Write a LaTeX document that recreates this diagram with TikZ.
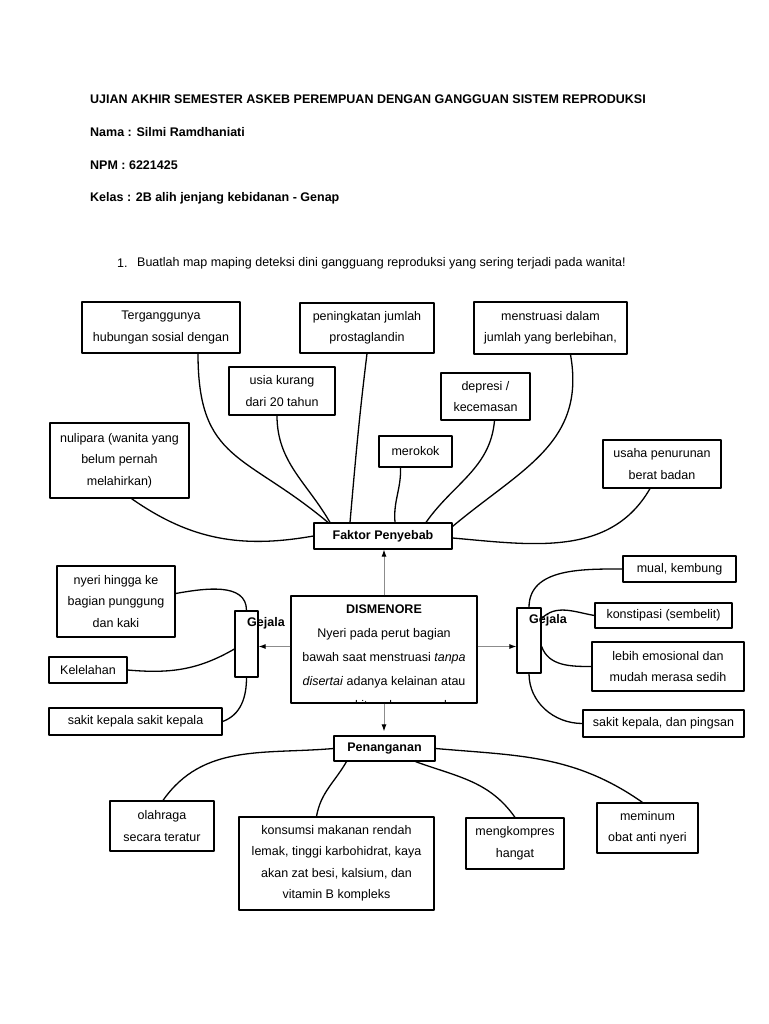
\documentclass[tikz,border=0pt]{standalone}
\usepackage{fontspec}
\setmainfont{Liberation Sans}
\usetikzlibrary{calc}
\usetikzlibrary{positioning}
\usetikzlibrary{arrows.meta}

\begin{document}
\begin{tikzpicture}
		[
		x=1pt, y=-1pt,
		font=\fontsize{12.5}{21.5}\selectfont,
		line join=round
		]
		
		% Node styles: boxes, side bars and header lines
		\tikzstyle{box node}=[draw,line width=1.2pt,align=center,inner sep=2pt];
		\tikzstyle{bar node}=[draw,line width=1.2pt,inner sep=0];
		\tikzstyle{head node}=[anchor=west,inner sep=0,font=\fontsize{12.5}{15}\selectfont\bfseries];
		\tikzstyle{plain node}=[anchor=west,inner sep=0];
		% Connectors
		\tikzstyle{link}=[line width=1.3pt];
		\tikzstyle{pointer}=[draw=black!45,line width=1pt,-{Latex[color=black,length=7pt,width=5pt]}];
		
		% Page
		\fill[white](0,0)rectangle(768,1024);
		\useasboundingbox(0,0)rectangle(768,1024);
		
		% Header
		\node[head node](title)at(90,99){UJIAN AKHIR SEMESTER ASKEB PEREMPUAN DENGAN GANGGUAN SISTEM REPRODUKSI};
		\node[head node](nama)at(90,132){Nama : Silmi Ramdhaniati};
		\node[head node](npm)at(90,165){NPM : 6221425};
		\node[head node](kelas)at(90,198){Kelas : 2B alih jenjang kebidanan - Genap};
		\node[plain node](num)at(117,263){1.};
		\node[plain node](task)at(137,263){Buatlah map maping deteksi dini gangguang reproduksi yang sering terjadi pada wanita!};
		
		% Faktor penyebab
		\node[box node, minimum width=158, minimum height=51](sosial)at(161,327.5){Terganggunya\\hubungan sosial dengan};
		\node[box node, minimum width=134, minimum height=50](prosta)at(367,328){peningkatan jumlah\\prostaglandin};
		\node[box node, minimum width=153, minimum height=52](mens)at(550.5,328){menstruasi dalam\\jumlah yang berlebihan,};
		\node[box node, minimum width=106, minimum height=48](usia)at(282,391){usia kurang\\dari 20 tahun};
		\node[box node, minimum width=89, minimum height=47](depresi)at(485.5,396.5){depresi /\\kecemasan};
		\node[box node, minimum width=139, minimum height=75](nuli)at(119.5,460.5){nulipara (wanita yang\\belum pernah\\melahirkan)};
		\node[box node, minimum width=73, minimum height=31](rokok)at(415.5,451.5){merokok};
		\node[box node, minimum width=118, minimum height=48](diet)at(662,464){usaha penurunan\\berat badan};
		\node[box node, minimum width=138, minimum height=26](faktor)at(383,536){\textbf{Faktor Penyebab}};
		
		% Dismenore
		\node[box node, minimum width=186, minimum height=107](dis)at(384,649.5){};
		\begin{scope}
		\clip(dis.south west)rectangle(dis.north east);
		\node[anchor=north,inner sep=0,align=center,font=\fontsize{12.5}{24}\selectfont](distext)at([yshift=-9]dis.north){\textbf{DISMENORE}\\Nyeri pada perut bagian\\bawah saat menstruasi \textit{tanpa}\\\textit{disertai} adanya kelainan atau\\penyakit pada panggul};
		\end{scope}
		
		% Gejala, left
		\node[bar node, minimum width=23, minimum height=66](gl)at(246.5,644){};
		\node[plain node](gltext)at(247,623){\textbf{Gejala}};
		\node[box node, minimum width=118, minimum height=71](nyeri)at(116,601.5){nyeri hingga ke\\bagian punggung\\dan kaki};
		\node[box node, minimum width=78, minimum height=26](lelah)at(88,670){Kelelahan};
		\node[box node, minimum width=173, minimum height=27](pusing)at(135.5,721.5){sakit kepala sakit kepala};
		
		% Gejala, right
		\node[bar node, minimum width=24, minimum height=65](gr)at(529,640.5){};
		\node[plain node](grtext)at(529,620){\textbf{Gejala}};
		\node[box node, minimum width=113, minimum height=26](mual)at(679.5,569){mual, kembung};
		\node[box node, minimum width=137, minimum height=25](konst)at(663.5,615.5){konstipasi (sembelit)};
		\node[box node, minimum width=152, minimum height=49](emosi)at(668,666.5){lebih emosional dan\\mudah merasa sedih};
		\node[box node, minimum width=161, minimum height=27](pingsan)at(663.5,723.5){sakit kepala, dan pingsan};
		
		% Penanganan
		\node[box node, minimum width=101, minimum height=25](tangan)at(384.5,748.5){\textbf{Penanganan}};
		\node[box node, minimum width=104, minimum height=50](olah)at(162,826){olahraga\\secara teratur};
		\node[box node, minimum width=195, minimum height=93](makan)at(336.5,863.5){konsumsi makanan rendah\\lemak, tinggi karbohidrat, kaya\\akan zat besi, kalsium, dan\\vitamin B kompleks};
		\node[box node, minimum width=98, minimum height=51](kompres)at(515,843.5){mengkompres\\hangat};
		\node[box node, minimum width=101, minimum height=50](obat)at(647.5,828){meminum\\obat anti nyeri};
		
		% Arrows from the centre
		\draw[pointer](dis.north)--(dis.north|-faktor.south);
		\draw[pointer]([yshift=3]dis.west)--([yshift=3]dis.west-|gl.east);
		\draw[pointer]([yshift=3]dis.east)--([yshift=3]dis.east-|gr.west);
		\draw[pointer,shorten >=4pt](dis.south)--(dis.south|-tangan.north);
		
		% Links to Faktor Penyebab
		\draw[link]([xshift=12]nuli.south)to[out=-35,in=190](faktor.west);
		\draw[link]([xshift=37]sosial.south)to[out=-90,in=140,looseness=1.3]([xshift=-55]faktor.north);
		\draw[link]([xshift=-5]usia.south)to[out=-90,in=120]([xshift=-53]faktor.north);
		\draw[link](prosta.south)to[out=-97,in=85]([xshift=-33]faktor.north);
		\draw[link]([xshift=-15]rokok.south)to[out=-88,in=95]([xshift=12]faktor.north);
		\draw[link]([xshift=9]depresi.south)to[out=-95,in=55]([xshift=43]faktor.north);
		\draw[link]([xshift=20]mens.south)to[out=-80,in=40,looseness=1.1]([yshift=-4]faktor.north east);
		\draw[link]([xshift=-12]diet.south)to[out=-120,in=-5]([yshift=-2]faktor.east);
		
		% Links to the left Gejala
		\draw[link]([yshift=8]nyeri.east)to[out=10,in=90](gl.north);
		\draw[link](lelah.east)to[out=-5,in=-150]([yshift=-5]gl.west);
		\draw[link](pusing.east)to[out=20,in=-90](gl.south);
		
		% Links to the right Gejala
		\draw[link](mual.west)to[out=180,in=90](gr.north);
		\draw[link](konst.west)to[out=170,in=45]([yshift=22]gr.east);
		\draw[link]([yshift=-6]gr.east)to[out=-70,in=180](emosi.west);
		\draw[link](gr.south)to[out=-90,in=180](pingsan.west);
		
		% Links to Penanganan
		\draw[link](tangan.west)to[out=185,in=55]([xshift=1]olah.north);
		\draw[link]([xshift=-38]tangan.south)to[out=-120,in=80]([xshift=-20]makan.north);
		\draw[link]([xshift=31]tangan.south)to[out=-20,in=125](kompres.north);
		\draw[link](tangan.east)to[out=-5,in=145]([xshift=-5]obat.north);
		\end{tikzpicture}
\end{document}
